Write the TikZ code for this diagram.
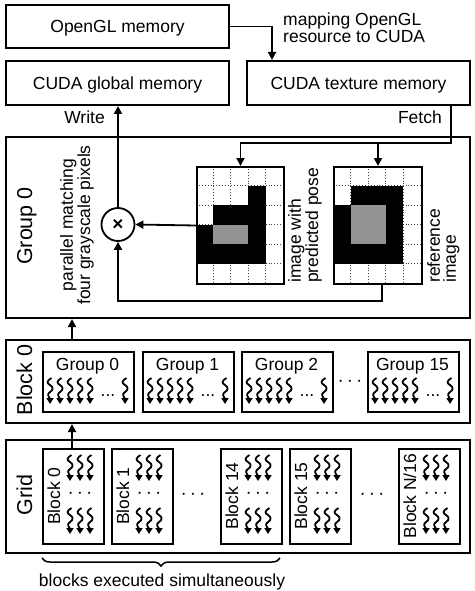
\documentclass[tikz,border=0pt]{standalone}
\usepackage{fontspec}
\setmainfont{Liberation Sans}
\usetikzlibrary{arrows.meta,decorations.pathreplacing}
\begin{document}
\begin{tikzpicture}[x=1pt,y=-1pt,
  box/.style={draw,line width=2pt,inner sep=0pt},
  boxlbl/.style={font=\fontsize{17.5}{16}\selectfont,text height=12.5pt,text depth=0pt},
  txt/.style={font=\fontsize{17.5}{16}\selectfont,inner sep=0pt},
  biglbl/.style={font=\fontsize{21.5}{20}\selectfont,inner sep=0pt,rotate=90,anchor=base},
  arr/.style={line width=1.8pt,-{Triangle[length=8pt,width=8pt]}},
  gridln/.style={line width=0.9pt,dotted,black!75},
  ell/.style={font=\fontsize{22}{22}\selectfont,inner sep=0pt},
  squig/.pic={\draw[line width=1.8pt,line join=round,-{Triangle[length=6pt,width=7pt]}]
      (1.5,0) .. controls (-3.5,3) and (-3.5,5) .. (0,7) .. controls (3.5,9) and (3.5,12) .. (0,14) .. controls (-3,16) and (-2,18) .. (0,20.5) -- (0,26);}
]
\useasboundingbox[fill=white] (0,0) rectangle (474,591);

% ---------- memory boxes ----------
\node[box,boxlbl,minimum width=223pt,minimum height=43pt,anchor=north west] (ogl) at (5,4) {OpenGL memory};
\node[box,boxlbl,minimum width=223pt,minimum height=44pt,anchor=north west] (glob) at (5,60) {CUDA global memory};
\node[box,boxlbl,minimum width=223pt,minimum height=44pt,anchor=north west] (tex) at (246,60) {CUDA texture memory};
\node[txt,align=left,anchor=north west,font=\fontsize{17.5}{15.5}\selectfont] (mapl) at (283,12.5) {mapping OpenGL\\resource to CUDA};
\coordinate (mapx) at (272,60);
\draw[arr] (ogl.east) -| (mapx);

\node[txt,anchor=base east] (writel) at (105,124) {Write};
\node[txt,anchor=base east] (fetchl) at (442,124) {Fetch};

% ---------- Group 0 ----------
\node[box,minimum width=464pt,minimum height=181pt,anchor=north west] (grp) at (5,136) {};
\node[biglbl] (grpl) at (32,226) {Group 0};
\node[txt,rotate=90,align=center,font=\fontsize{17.5}{15}\selectfont] (parl) at (77,225) {parallel matching\\four grayscale pixels};

% images
\begin{scope}[shift={(196,166)}]
  \foreach \i in {1,...,4} \draw[gridln] ({\i*17.4},0) -- ({\i*17.4},117);
  \foreach \j in {1,...,5} \draw[gridln] (0,{\j*19.5}) -- (87,{\j*19.5});
  \fill ({3*17.4},19.5) rectangle ({4*17.4},{5*19.5});
  \fill (17.4,{2*19.5}) rectangle ({4*17.4},{3*19.5});
  \fill (0,{3*19.5}) rectangle ({4*17.4},{5*19.5});
  \fill[gray!85] (17.4,{3*19.5}) rectangle ({3*17.4},{4*19.5});
\end{scope}
\begin{scope}[shift={(333,166)}]
  \foreach \i in {1,...,4} \draw[gridln] ({\i*17.6},0) -- ({\i*17.6},117);
  \foreach \j in {1,...,5} \draw[gridln] (0,{\j*19.5}) -- (88,{\j*19.5});
  \fill (17.6,19.5) rectangle ({4*17.6},{5*19.5});
  \fill (0,{2*19.5}) rectangle ({4*17.6},{5*19.5});
  \fill[gray!85] (17.6,{2*19.5}) rectangle ({3*17.6},{4*19.5});
\end{scope}
\node[box,minimum width=87pt,minimum height=117pt,anchor=north west] (img1) at (196,166) {};
\node[box,minimum width=88pt,minimum height=117pt,anchor=north west] (img2) at (333,166) {};
\node[txt,rotate=90,align=left,anchor=north west] (img1l) at (288,283) {image with\\predicted pose};
\node[txt,rotate=90,align=left,anchor=north west] (img2l) at (427,283) {reference\\image};

\node[circle,draw,line width=1.8pt,minimum size=33pt,inner sep=0pt,font=\fontsize{19}{19}\selectfont\bfseries] (mul) at (118,224.5) {×};

% connectors in Group 0
\coordinate (fc) at (451,143);
\draw[arr] (tex.south -| fc) |- (img1.north |- fc) -- (img1.north);
\draw[arr] (img2.north |- fc) -- (img2.north);
\draw[arr] (mul.north) -- (mul.north |- glob.south);
\draw[arr] (img1.west) -- (mul.east);
\coordinate (ret) at (382,301);
\draw[arr] (img2.south -| ret) -- (ret) -| (mul.south);

% ---------- Block 0 ----------
\node[box,minimum width=464pt,minimum height=83pt,anchor=north west] (blk) at (5,339) {};
\node[biglbl] (blkl) at (32,380) {Block 0};
\foreach \xl/\nm/\txt in {42/g0/0,142/g1/1,241/g2/2,367/g15/15}{
  \node[box,minimum width=91pt,minimum height=60pt,anchor=north west] (\nm) at (\xl,351) {};
  \node[txt,anchor=base] (\nm-l) at ({\xl+45.5},370) {Group \txt};
  \foreach \dx in {8,18,28,38,48,83} \pic at ({\xl+\dx},378) {squig};
  \node[txt] (\nm-d) at ({\xl+66},396) {...};
}
\node[ell] (gdots) at (350,382) {$\cdots$};
\coordinate (u1) at (72,0);
\draw[arr] (blk.north -| u1) -- (grp.south -| u1);

% ---------- Grid ----------
\node[box,minimum width=464pt,minimum height=113pt,anchor=north west] (grid) at (5,439) {};
\node[biglbl] (gridl) at (32,495) {Grid};
\foreach \xl/\nm/\txt in {42/b0/0,111/b1/1,220/b14/14,289/b15/15,398/bN/N}{
  \node[box,minimum width=60.5pt,minimum height=95pt,anchor=north west] (\nm) at (\xl,448) {};
  \foreach \dx in {28,38,48} {\pic at ({\xl+\dx},455) {squig}; \pic at ({\xl+\dx},508) {squig};}
  \node[ell] (\nm-d) at ({\xl+38},494) {$\cdots$};
}
\node[txt,rotate=90,anchor=base] (b0-l) at (60,496) {Block 0};
\node[txt,rotate=90,anchor=base] (b1-l) at (129,496) {Block 1};
\node[txt,rotate=90,anchor=base] (b14-l) at (238,496) {Block 14};
\node[txt,rotate=90,anchor=base] (b15-l) at (307,496) {Block 15};
\node[txt,rotate=90,anchor=base] (bN-l) at (416,496) {Block N/16};
\node[ell] (bdots1) at (193,495) {$\cdots$};
\node[ell] (bdots2) at (372,495) {$\cdots$};
\draw[arr] (b0.north -| u1) -- (blk.south -| u1);

% brace
\coordinate (br1) at (42,558);
\coordinate (br2) at (280,558);
\draw[decorate,decoration={brace,mirror,amplitude=8pt},line width=1.5pt] (br1) -- (br2);
\node[txt] (simul) at (162,582) {blocks executed simultaneously};
\end{tikzpicture}
\end{document}
